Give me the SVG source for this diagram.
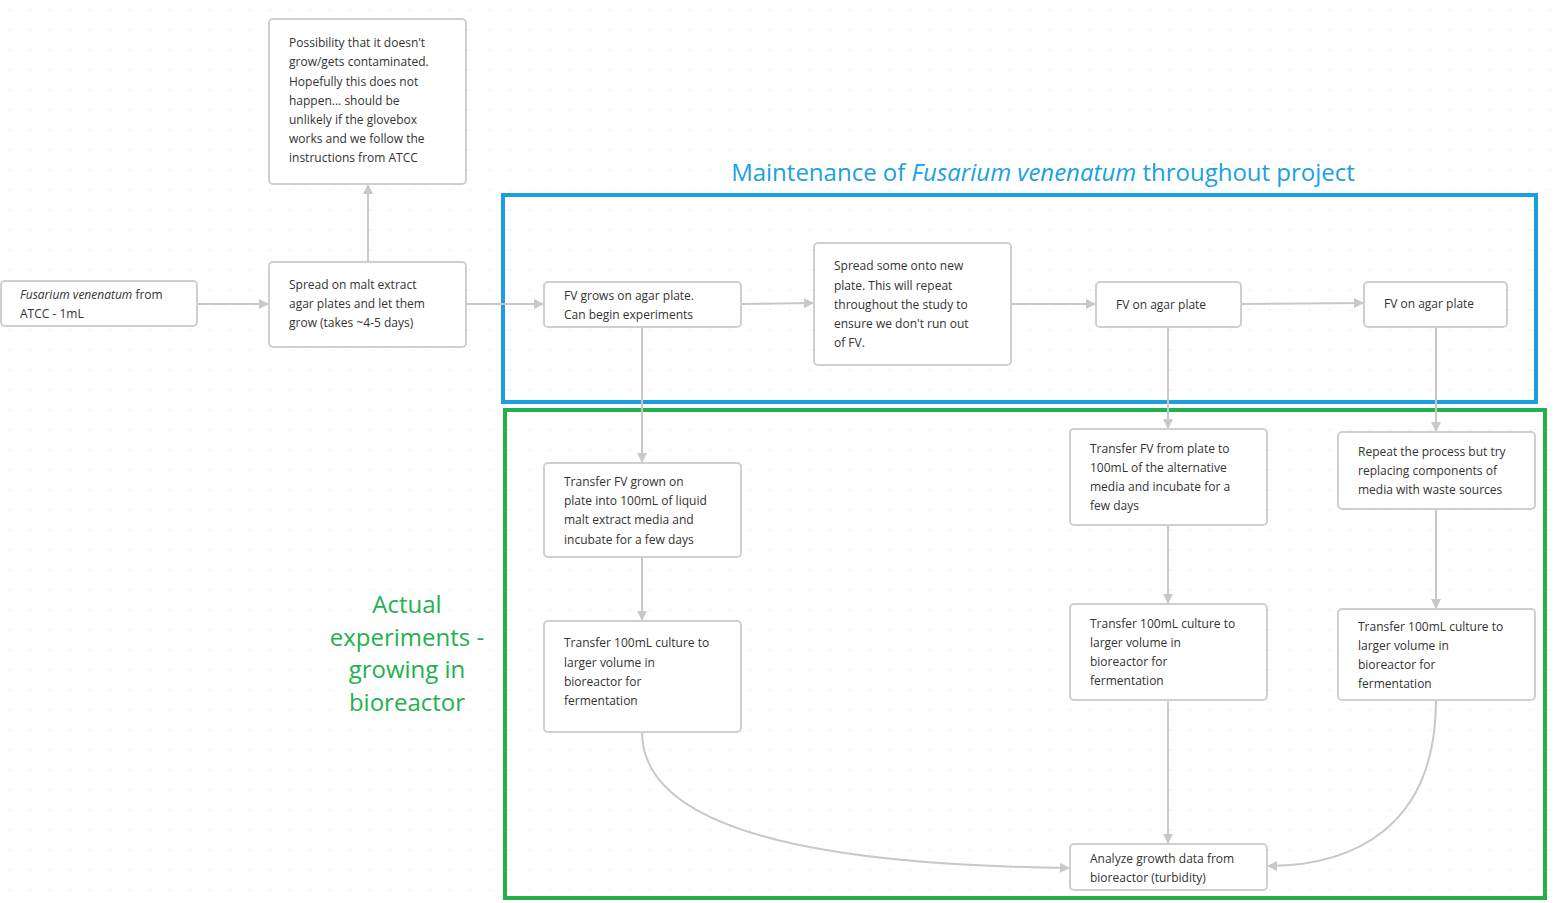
<svg xmlns="http://www.w3.org/2000/svg" width="1564" height="903" viewBox="0 0 1564 903">
<style>
.n rect{fill:#fff;stroke:#cfcfcf;stroke-width:2}
.n text{font-family:"Open Sans","Noto Sans",sans-serif;font-size:12px;fill:#333}
.c path{fill:none;stroke:#c8c8c8;stroke-width:2;marker-end:url(#a)}
</style>
<defs>
<pattern id="g" width="20" height="20" patternUnits="userSpaceOnUse"><circle cx="10" cy="10" r="0.8" fill="#e2e2e2"/></pattern>
<marker id="a" viewBox="0 0 10 10" refX="10" refY="5" markerWidth="10" markerHeight="10" markerUnits="userSpaceOnUse" orient="auto"><path d="M0,0L10,5L0,10z" fill="#c8c8c8"/></marker>
</defs>
<rect width="1564" height="903" fill="#fff"/>
<rect width="1564" height="903" fill="url(#g)"/>
<g id="groups">
<rect x="503" y="195" width="1033" height="207" fill="none" stroke="#1a9fe3" stroke-width="4"/>
<rect x="505" y="410" width="1040" height="488" fill="none" stroke="#22b14c" stroke-width="4"/>
<text x="1043" y="181" text-anchor="middle" font-family="'Open Sans',sans-serif" font-size="24" fill="#1a9fe3">Maintenance of <tspan font-style="italic">Fusarium venenatum</tspan> throughout project</text>
<text x="407" y="613" text-anchor="middle" font-family="'Open Sans',sans-serif" font-size="24" fill="#22b14c"><tspan x="407">Actual</tspan><tspan x="407" dy="32.5">experiments -</tspan><tspan x="407" dy="32.5">growing in</tspan><tspan x="407" dy="32.5">bioreactor</tspan></text>
</g>
<g class="c" id="connectors">
<path d="M197,304H269"/>
<path d="M368,262V184"/>
<path d="M466,304H544"/>
<path d="M741,304L814,303"/>
<path d="M1011,304H1096"/>
<path d="M1241,304L1364,303"/>
<path d="M642,327V463"/>
<path d="M1168,327V429"/>
<path d="M1436,327V432"/>
<path d="M642,557V621"/>
<path d="M1168,525V604"/>
<path d="M1436,509V609"/>
<path d="M1168,700V844"/>
<path d="M642,732C642,850 900,866 1070,868"/>
<path d="M1436,700C1436,830 1350,866 1267,866"/>
</g>
<g class="n" id="n1"><rect x="1" y="281" width="196" height="45" rx="4"/><text x="20" y="299"><tspan font-style="italic">Fusarium venenatum</tspan> from</text><text x="20" y="318">ATCC - 1mL</text></g>
<g class="n" id="n2"><rect x="269" y="262" width="197" height="85" rx="4"/><text x="289" y="289">Spread on malt extract</text><text x="289" y="308">agar plates and let them</text><text x="289" y="327">grow (takes ~4-5 days)</text></g>
<g class="n" id="n3"><rect x="269" y="19" width="197" height="165" rx="4"/><text x="289" y="47">Possibility that it doesn't</text><text x="289" y="66">grow/gets contaminated.</text><text x="289" y="86">Hopefully this does not</text><text x="289" y="105">happen... should be</text><text x="289" y="124">unlikely if the glovebox</text><text x="289" y="143">works and we follow the</text><text x="289" y="162">instructions from ATCC</text></g>
<g class="n" id="n4"><rect x="544" y="282" width="197" height="45" rx="4"/><text x="564" y="300">FV grows on agar plate.</text><text x="564" y="319">Can begin experiments</text></g>
<g class="n" id="n5"><rect x="814" y="243" width="197" height="122" rx="4"/><text x="834" y="270">Spread some onto new</text><text x="834" y="290">plate. This will repeat</text><text x="834" y="309">throughout the study to</text><text x="834" y="328">ensure we don't run out</text><text x="834" y="347">of FV.</text></g>
<g class="n" id="n6"><rect x="1096" y="282" width="145" height="45" rx="4"/><text x="1116" y="309">FV on agar plate</text></g>
<g class="n" id="n7"><rect x="1364" y="282" width="143" height="45" rx="4"/><text x="1384" y="308">FV on agar plate</text></g>
<g class="n" id="n8"><rect x="544" y="463" width="197" height="94" rx="4"/><text x="564" y="486">Transfer FV grown on</text><text x="564" y="505">plate into 100mL of liquid</text><text x="564" y="524">malt extract media and</text><text x="564" y="544">incubate for a few days</text></g>
<g class="n" id="n9"><rect x="544" y="621" width="197" height="111" rx="4"/><text x="564" y="647">Transfer 100mL culture to</text><text x="564" y="667">larger volume in</text><text x="564" y="686">bioreactor for</text><text x="564" y="705">fermentation</text></g>
<g class="n" id="n10"><rect x="1070" y="429" width="197" height="96" rx="4"/><text x="1090" y="453">Transfer FV from plate to</text><text x="1090" y="472">100mL of the alternative</text><text x="1090" y="491">media and incubate for a</text><text x="1090" y="510">few days</text></g>
<g class="n" id="n11"><rect x="1070" y="604" width="197" height="96" rx="4"/><text x="1090" y="628">Transfer 100mL culture to</text><text x="1090" y="647">larger volume in</text><text x="1090" y="666">bioreactor for</text><text x="1090" y="685">fermentation</text></g>
<g class="n" id="n12"><rect x="1338" y="432" width="197" height="77" rx="4"/><text x="1358" y="456">Repeat the process but try</text><text x="1358" y="475">replacing components of</text><text x="1358" y="494">media with waste sources</text></g>
<g class="n" id="n13"><rect x="1338" y="609" width="197" height="91" rx="4"/><text x="1358" y="631">Transfer 100mL culture to</text><text x="1358" y="650">larger volume in</text><text x="1358" y="669">bioreactor for</text><text x="1358" y="688">fermentation</text></g>
<g class="n" id="n14"><rect x="1070" y="844" width="197" height="46" rx="4"/><text x="1090" y="863">Analyze growth data from</text><text x="1090" y="882">bioreactor (turbidity)</text></g>
</svg>
